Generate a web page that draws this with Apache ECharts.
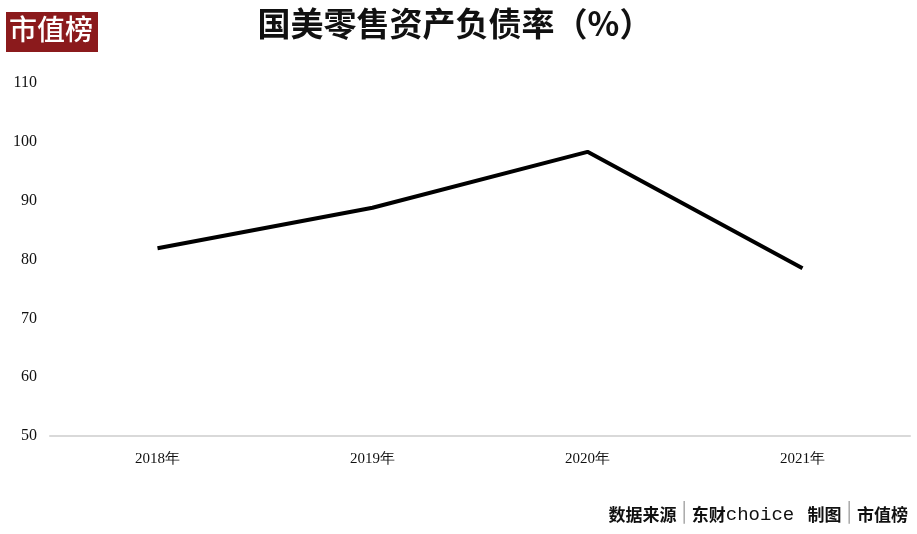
<!DOCTYPE html>
<html><head><meta charset="utf-8">
<script src="https://cdn.jsdelivr.net/npm/echarts@6/dist/echarts.min.js"></script>
<style>html,body{margin:0;padding:0;background:#fff}#c{width:917px;height:534px}</style>
</head><body><div id="c"></div>
<script>
const categories = ['2018年', '2019年', '2020年', '2021年'];
const debtRatio = [81.9, 88.8, 98.3, 78.5];
const yMin = 50, yMax = 110, yStep = 10;

const chart = echarts.init(document.getElementById('c'));
chart.setOption({
  backgroundColor: '#fff',
  animation: false,
  title: {
    text: '国美零售资产负债率（%）',
    left: 450, textAlign: 'center', top: 2,
    textStyle: { fontFamily: 'Noto Sans CJK SC', fontWeight: 'bold', fontSize: 33, color: '#111' }
  },
  graphic: [
    { type: 'rect', left: 6, top: 12, shape: { width: 92, height: 40 }, style: { fill: '#8b1a1c' } },
    { type: 'text', left: 9, top: 15, style: { text: '市值榜', fill: '#fff', font: '500 28px "Noto Sans CJK SC"' } },
    { type: 'text', right: 9, top: 505, style: {
      text: '{b|数据来源}{s|│}{b|东财}{c|choice}    {b|制图}{s|│}{b|市值榜}',
      rich: {
        b: { fontFamily: 'Noto Sans CJK SC', fontWeight: 'bold', fontSize: 17, fill: '#111' },
        c: { fontFamily: 'Liberation Mono', fontSize: 19, fill: '#111' },
        s: { fontFamily: 'DejaVu Sans', fontSize: 19, fill: '#aaa', padding: [0, 2, 0, 2] }
      }
    } }
  ],
  grid: { left: 50, right: 7, top: 83, bottom: 98 },
  xAxis: {
    type: 'category', data: categories, boundaryGap: true,
    axisLine: { lineStyle: { color: '#d9d9d9', width: 2 } },
    axisTick: { show: false },
    axisLabel: { margin: 16, fontFamily: 'Liberation Serif', fontSize: 15, color: '#111' }
  },
  yAxis: {
    type: 'value', min: yMin, max: yMax, interval: yStep,
    axisLine: { show: false }, axisTick: { show: false }, splitLine: { show: false },
    axisLabel: { margin: 13, fontFamily: 'Liberation Serif', fontSize: 16, color: '#111' }
  },
  series: [{
    type: 'line', data: debtRatio, showSymbol: false,
    lineStyle: { color: '#000', width: 4 }
  }]
});
</script></body></html>
